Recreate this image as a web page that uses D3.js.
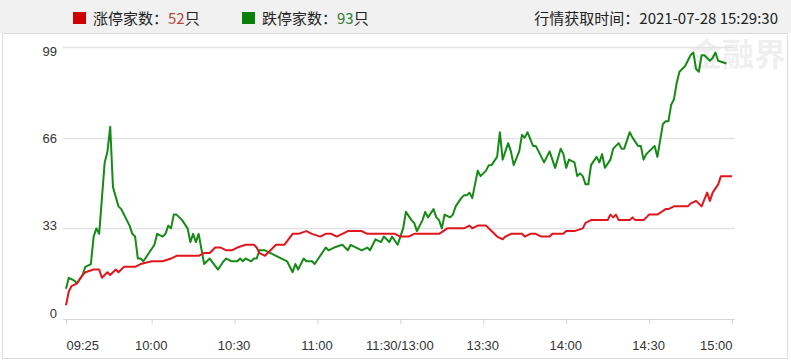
<!DOCTYPE html>
<html>
<head>
<meta charset="utf-8">
<script src="https://cdn.jsdelivr.net/npm/d3@7"></script>
<style>
  html, body { margin: 0; padding: 0; background: #fff; }
  svg { display: block; }
</style>
</head>
<body>
<div id="container"></div>
<script>
// limit-up / limit-down counts, 2021-07-28
let upTimes = ["09:25","09:30","09:31","09:33","09:35","09:36","09:39","09:41","09:42","09:44","09:45","09:47","09:48","09:50","09:54","09:56","10:00","10:04","10:07","10:09","10:17","10:19","10:21","10:23","10:25","10:27","10:29","10:31","10:34","10:37","10:38","10:39","10:41","10:43","10:45","10:48","10:51","10:53","10:56","10:58","11:01","11:03","11:05","11:07","11:09","11:11","11:16","11:18","11:28","11:30","13:03","13:05","13:14","13:17","13:23","13:25","13:26","13:28","13:31","13:33","13:35","13:37","13:38","13:40","13:44","13:45","13:47","13:49","13:51","13:54","13:55","13:59","14:00","14:03","14:06","14:07","14:09","14:15","14:16","14:17","14:18","14:19","14:23","14:24","14:25","14:28","14:30","14:33","14:36","14:37","14:39","14:44","14:45","14:47","14:49","14:51","14:52","14:53","14:55","14:56","15:00"];
let upValues = [5,10,12,13,16,17,18,18,15,17,16,18,17,19,19,20,21,21,22,23,23,24,24,26,26,25,25,26,27,27,26,24,23,25,27,27,31,31,32,31,30,31,31,30,31,32,32,31,31,30,30,31,31,33,33,34,33,34,34,32,30,29,30,31,31,30,31,31,30,30,31,31,32,32,33,35,36,36,38,37,38,36,36,37,36,36,38,38,40,40,41,41,42,43,41,46,43,46,49,52,52];

let downTimes = ["09:25","09:30","09:32","09:33","09:35","09:36","09:38","09:39","09:40","09:41","09:43","09:44","09:45","09:46","09:48","09:49","09:52","09:53","09:54","09:55","09:56","09:57","09:59","10:01","10:02","10:04","10:05","10:06","10:07","10:08","10:09","10:11","10:13","10:14","10:15","10:16","10:17","10:19","10:21","10:24","10:26","10:27","10:29","10:31","10:32","10:33","10:34","10:36","10:37","10:38","10:39","10:41","10:43","10:45","10:47","10:49","10:51","10:52","10:53","10:55","10:56","10:58","10:59","11:01","11:03","11:04","11:06","11:09","11:11","11:12","11:14","11:16","11:18","11:19","11:20","11:21","11:23","11:24","11:26","11:27","11:29","11:30","13:01","13:02","13:04","13:05","13:06","13:07","13:08","13:09","13:10","13:12","13:13","13:14","13:15","13:16","13:18","13:19","13:20","13:22","13:23","13:24","13:25","13:26","13:28","13:29","13:31","13:32","13:33","13:35","13:36","13:37","13:39","13:40","13:41","13:43","13:44","13:45","13:46","13:48","13:49","13:52","13:54","13:56","13:58","13:59","14:00","14:01","14:03","14:04","14:05","14:06","14:07","14:08","14:09","14:11","14:12","14:13","14:14","14:16","14:17","14:19","14:20","14:21","14:23","14:24","14:26","14:27","14:28","14:29","14:31","14:32","14:33","14:34","14:35","14:36","14:37","14:38","14:39","14:40","14:41","14:42","14:43","14:45","14:46","14:47","14:48","14:49","14:50","14:52","14:53","14:54","14:55","14:58"];
let downValues = [11,15,14,13,16,19,20,30,33,31,57,61,70,48,41,40,34,31,30,22,22,21,24,27,31,30,31,34,33,38,38,36,33,28,31,28,31,20,22,18,21,22,21,21,22,21,22,21,22,22,25,25,24,23,22,21,17,20,18,22,21,21,20,23,26,25,26,27,25,27,26,25,26,25,27,29,28,30,28,30,27,30,33,39,36,35,32,34,36,39,37,40,37,36,33,38,37,38,41,44,45,45,46,44,54,52,54,56,56,59,68,58,64,61,56,61,67,66,68,63,63,57,61,55,62,60,55,58,57,52,53,52,49,49,56,59,57,60,55,58,62,64,62,62,68,66,63,63,58,60,62,63,59,65,71,72,72,78,80,86,90,91,92,96,97,91,90,96,96,94,95,97,94,93];

let tickLabels = ["09:25","10:00","10:30","11:00","11:30/13:00","13:30","14:00","14:30","15:00"];
let yTicks = [0, 33, 66, 99];

let upLabel = "涨停家数：";
let downLabel = "跌停家数：";
let upCount = 52;
let downCount = 93;
let fetchTime = "行情获取时间：2021-07-28 15:29:30";

let w = 791;
let h = 361;

// trading-minute slot: 09:25 -> 0, 09:30..11:30 -> 1..121, 13:01..15:00 -> 122..241
function slot(t) {
  let p = t.split("/")[0].split(":");
  let m = +p[0] * 60 + +p[1];
  if (m < 570) return 0;
  if (m <= 690) return m - 569;
  return m - 780 + 121;
}

let viz = d3.select("#container")
  .append("svg")
  .attr("width", w)
  .attr("height", h)
;

// header band + frame
viz.append("rect").attr("x", 0).attr("y", 0).attr("width", w).attr("height", 33).attr("fill", "#f1f1f1");
viz.append("rect").attr("x", 2.5).attr("y", 33.5).attr("width", 785).attr("height", 325)
  .attr("fill", "none").attr("stroke", "#dcdcdc");

let cjk = "'Noto Sans CJK SC', 'Noto Sans', sans-serif";

// legend
let legend = [
  {label: upLabel, count: upCount, box: "#cc0000", num: "#b5473a", x: 73},
  {label: downLabel, count: downCount, box: "#0a800a", num: "#2e7d32", x: 242}
];
legend.forEach(function(d) {
  viz.append("rect").attr("x", d.x).attr("y", 12).attr("width", 13).attr("height", 12).attr("fill", d.box);
  let t = viz.append("text").attr("x", d.x + 20).attr("y", 24)
    .style("font-family", cjk).style("font-size", "15px").attr("fill", "#222");
  t.append("tspan").text(d.label);
  t.append("tspan").attr("fill", d.num).text(d.count);
  t.append("tspan").text("只");
});

viz.append("text").attr("x", 778).attr("y", 24).attr("text-anchor", "end")
  .style("font-family", cjk).style("font-size", "15px").attr("fill", "#222")
  .text(fetchTime);

// watermark
viz.append("text").attr("x", 786).attr("y", 66).attr("text-anchor", "end")
  .style("font-family", cjk).style("font-size", "32px").style("font-weight", "bold")
  .attr("fill", "#000").attr("opacity", 0.06).text("金融界");

let xScale = d3.scaleLinear().domain([0, 241]).range([66, 732]);
let yScale = d3.scaleLinear().domain([0, 99]).range([319, 47]);
// the value labels sit on a slightly tighter spacing than the grid
let labelScale = d3.scaleLinear().domain([0, 99]).range([313, 51.5]);

// grid
viz.selectAll(".grid").data(yTicks.filter(d => d > 0)).enter()
  .append("line")
  .attr("x1", 63).attr("x2", 735)
  .attr("y1", d => Math.round(yScale(d)) + 0.5)
  .attr("y2", d => Math.round(yScale(d)) + 0.5)
  .attr("stroke", "#e3e3e3").attr("stroke-width", 1.5);

let font = "'Liberation Sans', Arial, sans-serif";

// y labels
viz.selectAll(".ylab").data(yTicks).enter()
  .append("text")
  .attr("x", 57).attr("y", d => labelScale(d))
  .attr("dy", "0.35em")
  .attr("text-anchor", "end")
  .style("font-family", font).style("font-size", "13px").attr("fill", "#333")
  .text(d => d);

// x axis
let xAxis = d3.axisBottom(xScale)
  .tickValues(tickLabels.map(slot))
  .tickFormat((d, i) => tickLabels[i])
  .tickSize(5)
  .tickPadding(16);

let gx = viz.append("g").attr("transform", "translate(0,319.5)").call(xAxis);
gx.select(".domain").attr("stroke", "#d6d6d6").attr("d", "M63,0H735");
gx.selectAll(".tick line").attr("stroke", "#d6d6d6");
gx.selectAll(".tick text")
  .style("font-family", font).style("font-size", "13px").attr("fill", "#333")
  .attr("text-anchor", (d, i) => i === 0 ? "start" : (i === tickLabels.length - 1 ? "end" : "middle"))
  .attr("dx", (d, i) => i === 0 || i === tickLabels.length - 1 ? 0 : -1);

// lines
let line = d3.line()
  .x(d => xScale(slot(d.t)))
  .y(d => yScale(d.v));

let down = downTimes.map((t, i) => ({t: t, v: downValues[i]}));
let up = upTimes.map((t, i) => ({t: t, v: upValues[i]}));

viz.append("path").datum(down).attr("d", line)
  .attr("fill", "none").attr("stroke", "#168a16").attr("stroke-width", 2).attr("stroke-linejoin", "round");
viz.append("path").datum(up).attr("d", line)
  .attr("fill", "none").attr("stroke", "#e0161e").attr("stroke-width", 2).attr("stroke-linejoin", "round");
</script>
</body>
</html>
